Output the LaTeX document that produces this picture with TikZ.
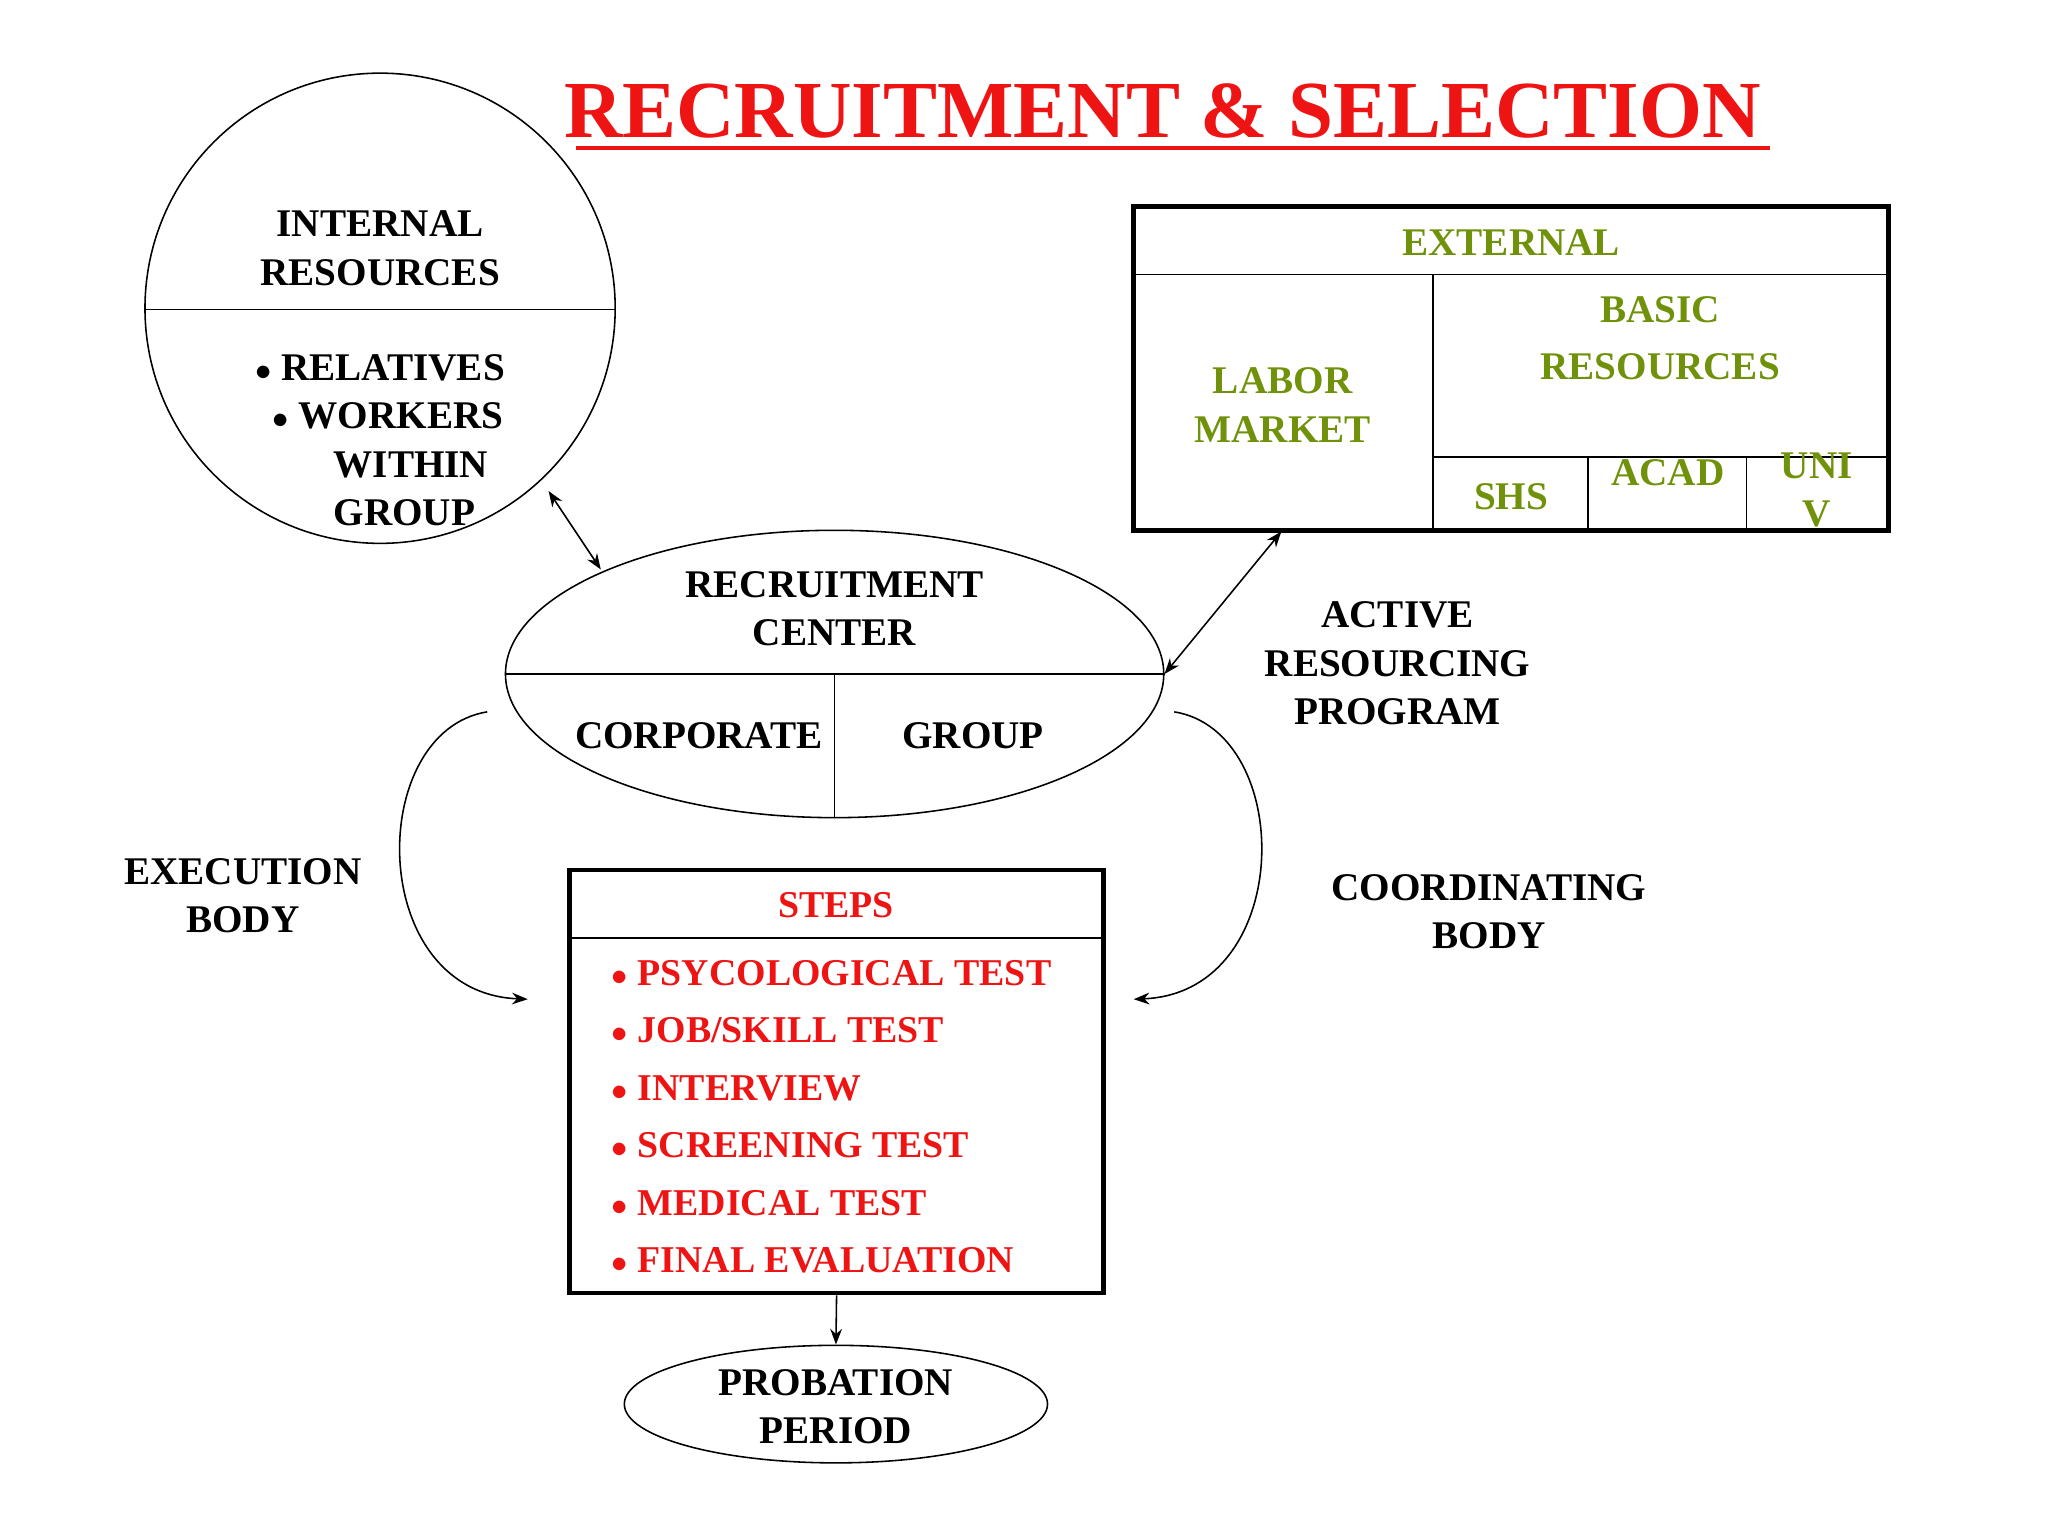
\documentclass[tikz,border=0pt]{standalone}
\usepackage{fontspec}
\setmainfont{Liberation Serif}
\usetikzlibrary{shapes.geometric,positioning,arrows.meta}
\definecolor{olive}{RGB}{112,146,10}
\definecolor{tred}{RGB}{238,20,20}
\tikzset{
  lbl/.style={font=\fontsize{30}{37}\selectfont\bfseries, align=center},
  ext/.style={lbl, text=olive},
  stepitem/.style={font=\fontsize{29}{36}\selectfont\bfseries, text=tred, anchor=west},
  link/.style={-{Stealth[length=12pt,width=9pt]}, line width=1.2pt},
  twoway/.style={{Stealth[length=12pt,width=9pt]}-{Stealth[length=12pt,width=9pt]}, line width=1.2pt},
}
\begin{document}
\begin{tikzpicture}[x=1pt,y=-1pt]
  \useasboundingbox (0,0) rectangle (1568,1176);
  % title
  \node[font=\fontsize{62}{70}\selectfont\bfseries, text=tred] (title) at (890,85) {RECRUITMENT \& SELECTION};
  \draw[tred, line width=3pt] (441,113) -- (1355,113);

  % internal resources
  \node[circle, draw, line width=1.2pt, minimum size=360pt] (int) at (291,236) {};
  \draw[line width=1.2pt] (111,237) -- (471,237);
  \node[lbl] (intl) at (291,190) {INTERNAL\\RESOURCES};
  \node[lbl, align=left] (intb) at (291,337) {$\bullet$ RELATIVES\\\;\,$\bullet$ WORKERS\\\qquad WITHIN\\\qquad GROUP};

  % external
  \draw[line width=3.5pt] (868,158) rectangle (1446,406);
  \draw[line width=1.2pt] (868,210) -- (1446,210) (1097,210) -- (1097,406)
    (1097,350) -- (1446,350) (1216,350) -- (1216,406) (1337,350) -- (1337,406);
  \coordinate (extb) at (981,407);
  \node[ext] (extl) at (1157,186) {EXTERNAL};
  \node[ext] (labor) at (982,310) {LABOR\\MARKET};
  \node[ext, font=\fontsize{30}{44}\selectfont\bfseries] (basic) at (1271,259) {BASIC\\RESOURCES};
  \node[ext] (shs) at (1157,380) {SHS};
  \node[ext] (acad) at (1277,362) {ACAD};
  \node[ext] (univ) at (1391,375) {UNI\\V};

  % recruitment center
  \node[ellipse, draw, line width=1.2pt, minimum width=504pt, minimum height=220pt] (rc) at (639,516) {};
  \draw[line width=1.2pt] (rc.west) -- (rc.east) (639,516) -- (rc.south);
  \node[lbl] (rcl) at (639,466) {RECRUITMENT\\CENTER};
  \node[lbl] (corp) at (535,563) {CORPORATE};
  \node[lbl] (grp) at (745,563) {GROUP};

  \coordinate (intp) at (420,376);
  \coordinate (rcp) at (460,436);
  \draw[twoway] (intp) -- (rcp);
  \draw[twoway] (rc.east) -- (extb);
  \node[lbl] (arp) at (1070,508) {ACTIVE\\RESOURCING\\PROGRAM};

  % steps
  \node[draw, line width=3.5pt, minimum width=409pt, minimum height=324pt] (steps) at (640.5,828) {};
  \draw[line width=1.2pt] (436,718) -- (845,718);
  \node[lbl, text=tred, font=\fontsize{29}{36}\selectfont\bfseries] (stl) at (640,693) {STEPS};
  \foreach \t [count=\i] in {PSYCOLOGICAL TEST, JOB/SKILL TEST, INTERVIEW, SCREENING TEST, MEDICAL TEST, FINAL EVALUATION}
    \node[stepitem] (s\i) at (465,701+44*\i) {$\bullet$ \t};

  % curved connectors
  \coordinate (lft) at (373,545);
  \coordinate (lfe) at (404,765);
  \coordinate (rgt) at (899,545);
  \coordinate (rge) at (868,765);
  \draw[link] (lft) .. controls (280,560) and (280,760) .. (lfe);
  \draw[link] (rgt) .. controls (992,560) and (992,760) .. (rge);
  \node[lbl] (exe) at (186,686) {EXECUTION\\BODY};
  \node[lbl] (coord) at (1140,698) {COORDINATING\\BODY};

  % probation
  \node[ellipse, draw, line width=1.2pt, minimum width=324pt, minimum height=90pt] (prob) at (640,1075) {};
  \node[lbl] (probl) at (640,1077) {PROBATION\\PERIOD};
  \draw[link] (steps.south) -- (prob.north);
\end{tikzpicture}
\end{document}
